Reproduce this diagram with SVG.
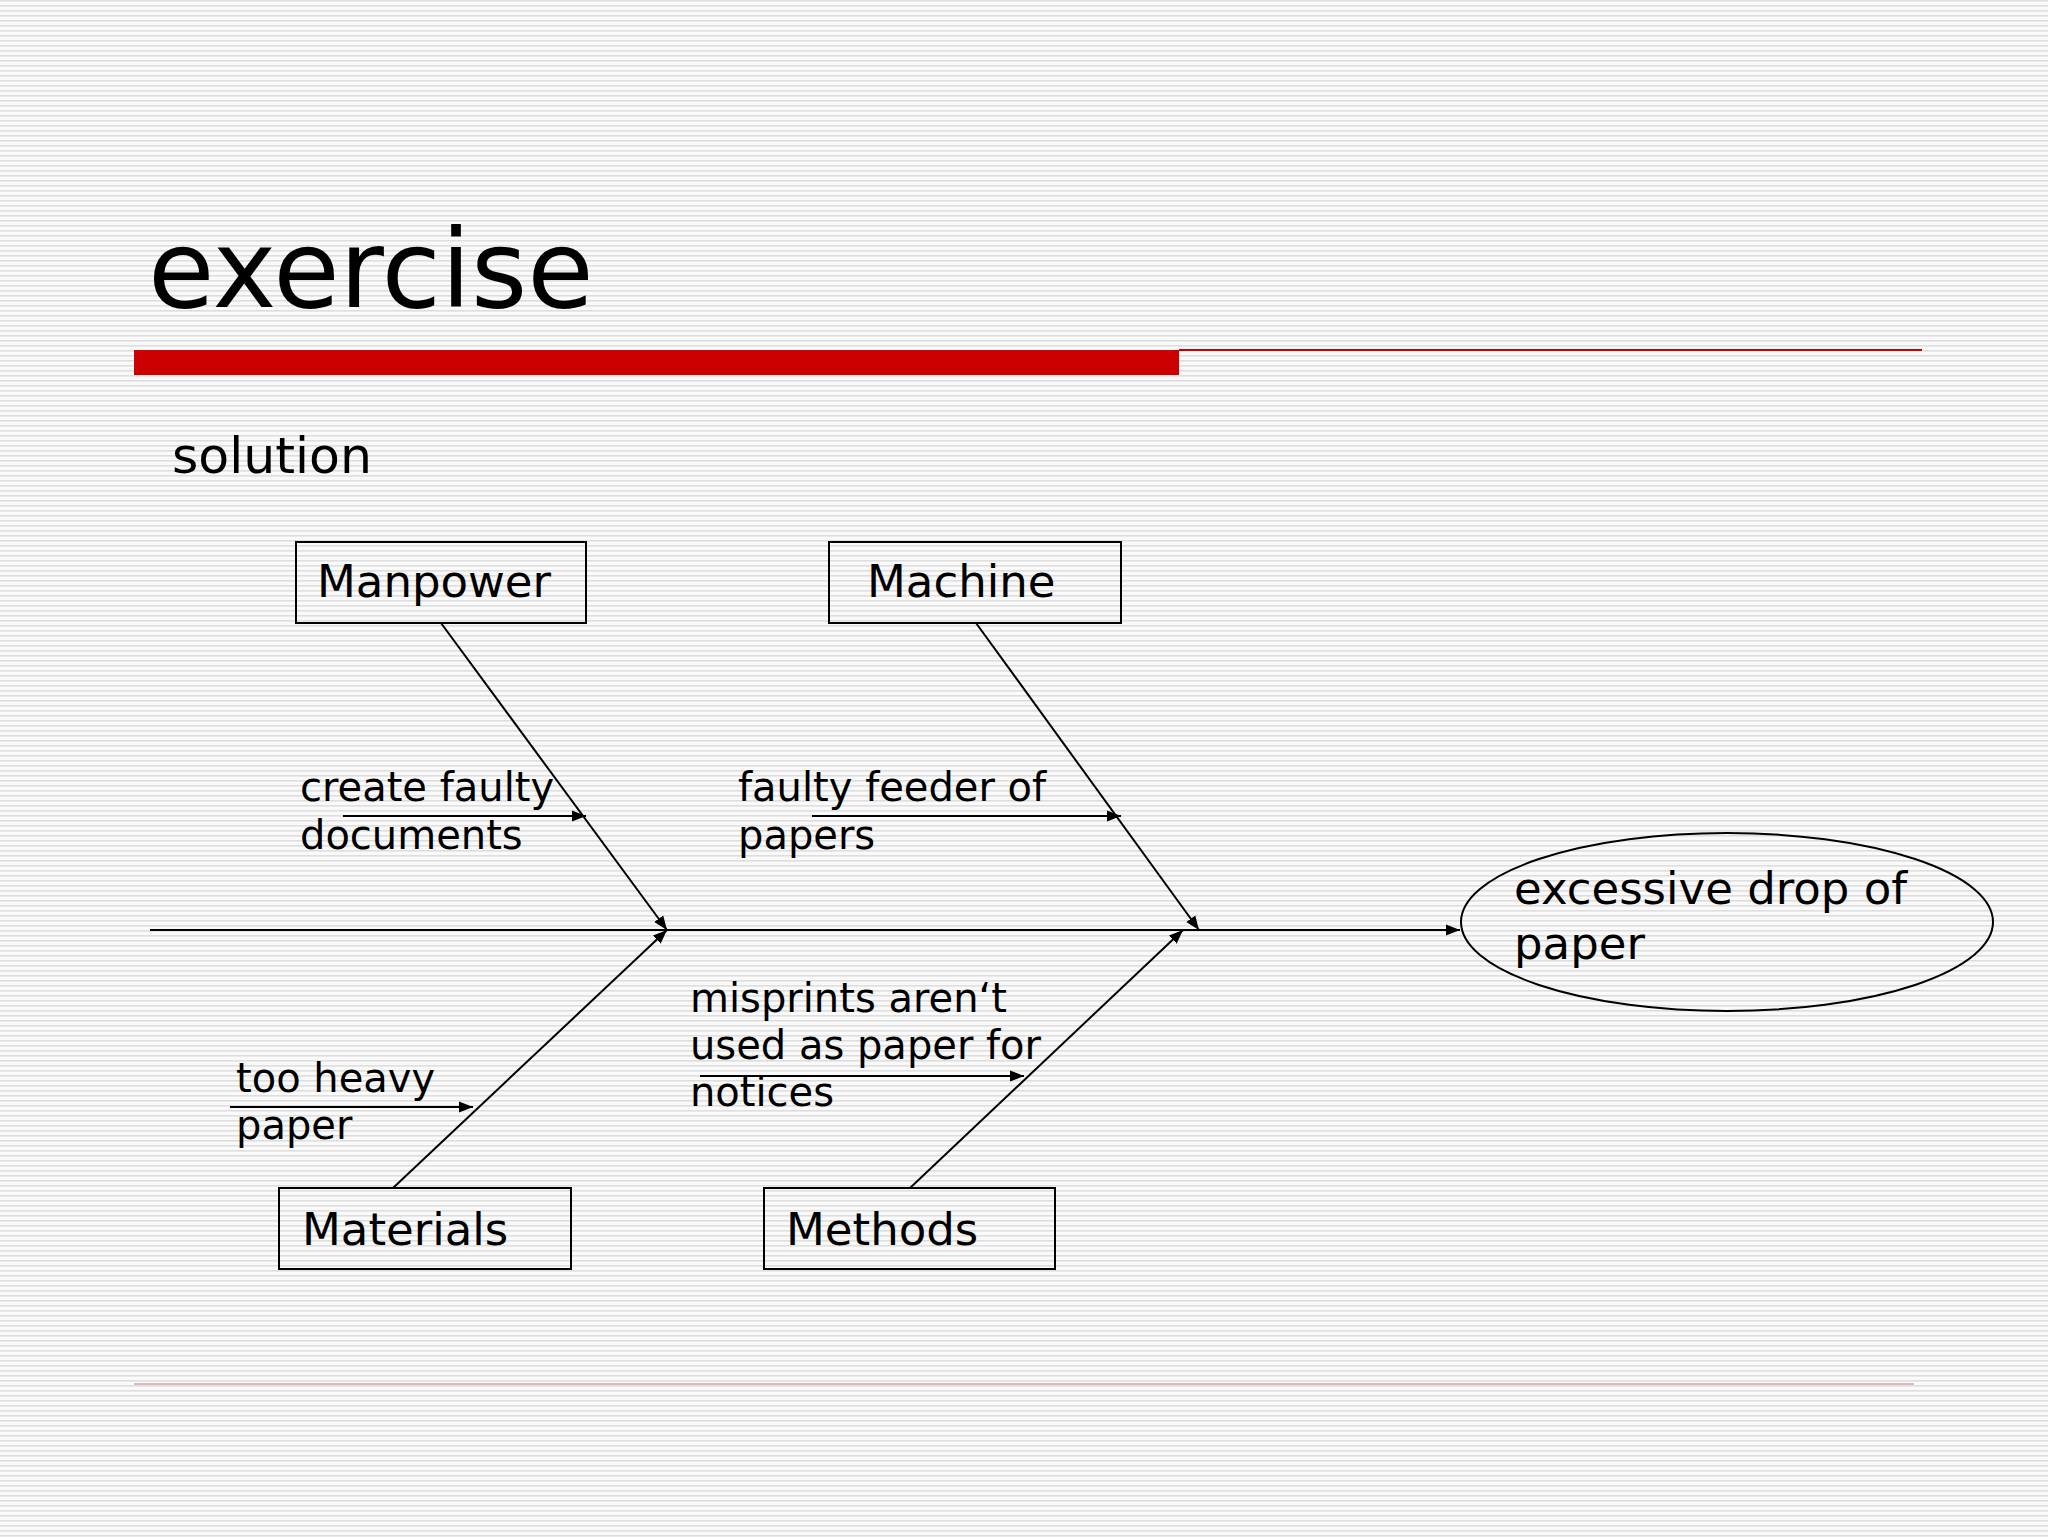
<svg xmlns="http://www.w3.org/2000/svg" width="2048" height="1537" viewBox="0 0 2048 1537">
<defs>
<pattern id="bg" width="8" height="5" patternUnits="userSpaceOnUse"><rect width="8" height="5" fill="#fafafa"/><rect y="0" width="8" height="1.6" fill="#dedede"/></pattern>
<marker id="ah" viewBox="0 0 10 10" refX="10" refY="5" markerWidth="14" markerHeight="14" markerUnits="userSpaceOnUse" orient="auto"><path d="M0,1 L10,5 L0,9 Z" fill="#000"/></marker>
</defs>
<style>
text{font-family:"DejaVu Sans","Verdana",sans-serif;fill:#000}
.box{fill:none;stroke:#000;stroke-width:2}
.ln{stroke:#000;stroke-width:2;fill:none;marker-end:url(#ah)}
.cat{font-size:45px}
.sm{font-size:40px}
</style>
<rect width="2048" height="1537" fill="url(#bg)"/>
<text x="148" y="307" font-size="108">exercise</text>
<rect x="134" y="350" width="1045" height="25" fill="#cc0000"/>
<line x1="1179" y1="350" x2="1922" y2="350" stroke="#cc0000" stroke-width="2"/>
<line x1="134" y1="1384" x2="1914" y2="1384" stroke="#d9a0a0" stroke-width="1.5"/>
<text x="172" y="473" font-size="50.5">solution</text>
<g id="connectors">
<line class="ln" x1="150" y1="930" x2="1460" y2="930"/>
<line class="ln" x1="441" y1="623" x2="667" y2="930"/>
<line class="ln" x1="976" y1="623" x2="1199" y2="930"/>
<line class="ln" x1="393" y1="1188" x2="667" y2="930"/>
<line class="ln" x1="910" y1="1188" x2="1183" y2="930"/>
<line class="ln" x1="343" y1="816" x2="586" y2="816"/>
<line class="ln" x1="812" y1="816" x2="1121" y2="816"/>
<line class="ln" x1="230" y1="1107" x2="473" y2="1107"/>
<line class="ln" x1="700" y1="1076" x2="1024" y2="1076"/>
</g>
<g id="manpower"><rect class="box" x="296" y="542" width="290" height="81"/><text class="cat" x="317" y="597">Manpower</text></g>
<g id="machine"><rect class="box" x="829" y="542" width="292" height="81"/><text class="cat" x="867" y="597">Machine</text></g>
<g id="materials"><rect class="box" x="279" y="1188" width="292" height="81"/><text class="cat" x="302" y="1245">Materials</text></g>
<g id="methods"><rect class="box" x="764" y="1188" width="291" height="81"/><text class="cat" x="786" y="1245">Methods</text></g>
<g id="effect"><ellipse class="box" cx="1727" cy="922" rx="266" ry="89"/><text class="cat" x="1514" y="904">excessive drop of</text><text class="cat" x="1514" y="959">paper</text></g>
<g id="c1"><text class="sm" x="300" y="801">create faulty</text><text class="sm" x="300" y="849">documents</text></g>
<g id="c2"><text class="sm" x="738" y="801">faulty feeder of</text><text class="sm" x="738" y="849">papers</text></g>
<g id="c3"><text class="sm" x="236" y="1092">too heavy</text><text class="sm" x="236" y="1139">paper</text></g>
<g id="c4"><text class="sm" x="690" y="1012">misprints aren‘t</text><text class="sm" x="690" y="1059">used as paper for</text><text class="sm" x="690" y="1106">notices</text></g>
</svg>
